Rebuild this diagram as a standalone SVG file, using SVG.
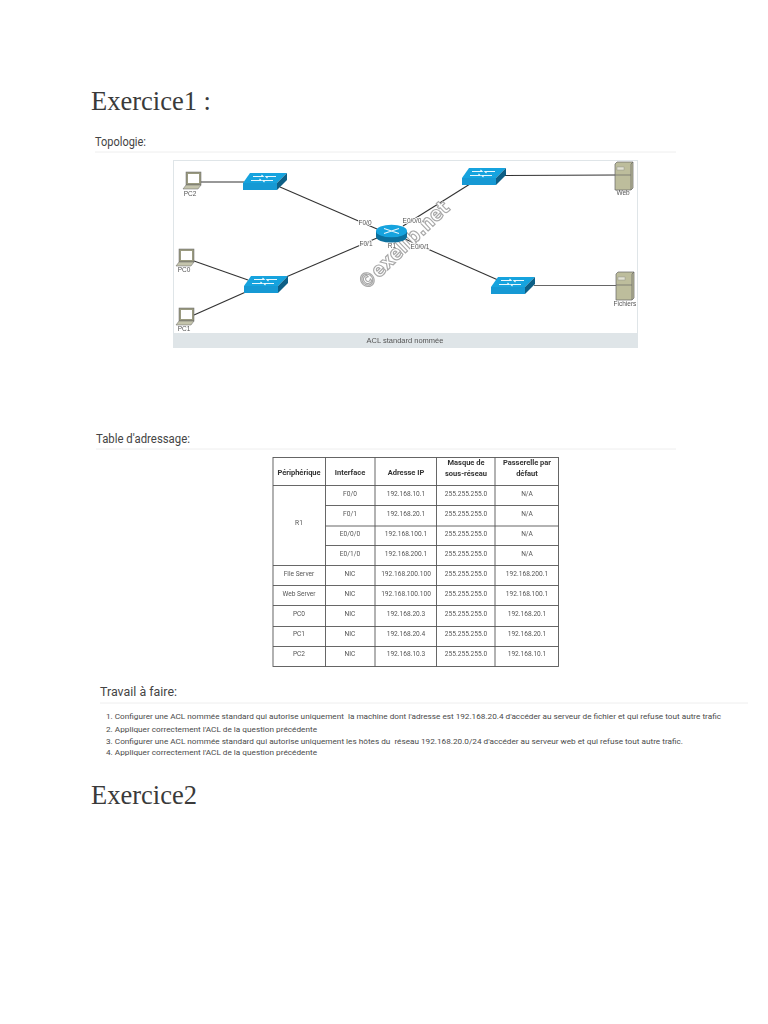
<svg xmlns="http://www.w3.org/2000/svg" width="768" height="1024" viewBox="0 0 768 1024">
<style>
.title{font-family:"Liberation Serif",serif;font-size:26.5px;fill:#3a3a3a}
.head{font-family:Roboto,"Liberation Sans",sans-serif;fill:#444}
.li{font-family:Roboto,"Liberation Sans",sans-serif;font-size:8px;fill:#4a4a4a}
.lab{font-family:"Liberation Sans",sans-serif;font-size:6.5px;fill:#555;text-anchor:middle}
.port{paint-order:stroke;stroke:#fff;stroke-width:1.6px}
.td{font-family:Roboto,"Liberation Sans",sans-serif;font-size:6.6px;fill:#555;text-anchor:middle}
.th{font-family:Roboto,"Liberation Sans",sans-serif;font-size:7.5px;font-weight:700;fill:#333;text-anchor:middle}
.link{stroke:#333;stroke-width:1.1;fill:none}
.hair{stroke:#eeeeee;stroke-width:1}
.grid{stroke:#555;stroke-width:.9;fill:none}
</style>
<defs>
<filter id="soft" x="-5%" y="-5%" width="110%" height="110%"><feGaussianBlur stdDeviation="0.4"/></filter>
<g id="sw">
<polygon points="0,10 34,10 44,0 7,0" fill="#16a3de"/>
<rect x="0" y="10" width="34" height="7" fill="#1299d4"/>
<polygon points="34,10 44,0 44,7 34,17" fill="#0b5f86"/>
<path d="M10 3.500h10l-1.500-1.500M33 3.500h-10l1.500 1.500M8 7.500h10l-1.500-1.500M30 7.500h-10l1.500 1.500" stroke="#eaf7fd" stroke-width="1.100" fill="none"/>
</g>
<g id="pc">
<rect x="3" y="0" width="15" height="13" fill="#9a9a80" stroke="#666" stroke-width=".5"/>
<rect x="5" y="2" width="11" height="9" fill="#fff"/>
<polygon points="3,13 18,13 15,17 0,17" fill="#c4c4ac" stroke="#666" stroke-width=".5"/>
</g>
<g id="srv">
<polygon points="0,2 2,0 18,0 18,26 16,28 0,28" fill="#bdbd9c" stroke="#666" stroke-width=".7"/>
<path d="M0 13h16M16 2v26M16 2l2-2" stroke="#666" stroke-width=".7" fill="none"/>
<rect x="2" y="5" width="7" height="3" fill="#e3e3d3" stroke="#888" stroke-width=".4"/>
</g>
</defs>
<rect width="768" height="1024" fill="#fff"/>
<text class="title" x="91" y="110">Exercice1 :</text>
<text class="head" x="95" y="146" font-size="12.300" textLength="51" lengthAdjust="spacingAndGlyphs">Topologie:</text>
<line class="hair" x1="95" y1="152" x2="676" y2="152"/>

<g id="topology" filter="url(#soft)">
<rect x="173.500" y="160.500" width="464" height="187" fill="#fff" stroke="#dfe5e8"/>
<rect id="caption" x="174" y="333" width="463" height="14" fill="#dfe5e8"/>
<text x="405" y="343" class="lab" style="font-size:7.500px">ACL standard nommée</text>
<g id="connectors">
<line class="link" x1="200" y1="182" x2="244" y2="182"/>
<line class="link" x1="280" y1="187" x2="377" y2="229"/>
<line class="link" x1="194" y1="261" x2="248" y2="280"/>
<line class="link" x1="194" y1="315" x2="248" y2="291"/>
<line class="link" x1="286" y1="277" x2="377" y2="238"/>
<line class="link" x1="403" y1="226" x2="470" y2="184"/>
<line class="link" x1="405" y1="239" x2="498" y2="280"/>
<line class="link" x1="505" y1="175.500" x2="616" y2="175"/>
<line class="link" x1="534" y1="285.500" x2="617" y2="285.500" style="stroke:#666"/>
</g>
<g id="sw-a"><use href="#sw" x="243" y="173"/></g>
<g id="sw-b"><use href="#sw" x="244" y="276"/></g>
<g id="sw-c"><use href="#sw" x="462" y="168"/></g>
<g id="sw-d"><use href="#sw" x="491" y="277"/></g>
<text id="watermark" transform="translate(366 291) rotate(-44)" font-family="'DejaVu Sans',sans-serif" font-weight="700" font-size="20" fill="#fff" stroke="#a8a8a8" stroke-width="1.200" textLength="118" lengthAdjust="spacingAndGlyphs">©exelib.net</text>
<g id="r1">
<path d="M376 231v6a15.500 5.500 0 0 0 31 0v-6z" fill="#0b6f9e"/>
<ellipse cx="391.500" cy="231" rx="15.500" ry="6.300" fill="#16a3de"/>
<path d="M384 228.500l15 5M399 228.500l-15 5" stroke="#eaf7fd" stroke-width="1.100"/>
<text class="lab" x="392" y="247.500">R1</text>
</g>
<g id="pc2"><use href="#pc" x="183" y="172"/><text class="lab" x="190" y="196">PC2</text></g>
<g id="pc0"><use href="#pc" x="176" y="249"/><text class="lab" x="184" y="272">PC0</text></g>
<g id="pc1"><use href="#pc" x="176" y="308"/><text class="lab" x="184" y="331">PC1</text></g>
<g id="web"><use href="#srv" x="615" y="162"/><text class="lab" x="623" y="195">Web</text></g>
<g id="fichiers"><use href="#srv" x="616" y="272"/><text class="lab" x="625" y="306">Fichiers</text></g>
<text class="lab port" x="365" y="225">F0/0</text>
<text class="lab port" x="366" y="246">F0/1</text>
<text class="lab port" x="412" y="223">E0/0/0</text>
<text class="lab port" x="420" y="248.500">E0/0/1</text>
</g>

<text class="head" x="96" y="443" font-size="12.300" textLength="94" lengthAdjust="spacingAndGlyphs">Table d'adressage:</text>
<line class="hair" x1="96" y1="449" x2="676" y2="449"/>

<g id="table" filter="url(#soft)">
<rect class="grid" x="273" y="457.500" width="285.500" height="209"/>
<path class="grid" d="M325.500 457.500V666.500M375 457.500V666.500M436.500 457.500V666.500M495 457.500V666.500M273 485.500H558.500M325.500 505.500H558.500M325.500 526H558.500M325.500 545.500H558.500M273 565.500H558.500M273 585.500H558.500M273 605.500H558.500M273 626.500H558.500M273 646.500H558.500"/>
<text class="th" x="299" y="475">Périphérique</text>
<text class="th" x="350" y="475">Interface</text>
<text class="th" x="406" y="475">Adresse IP</text>
<text class="th" x="466" y="465">Masque de</text>
<text class="th" x="466" y="476">sous-réseau</text>
<text class="th" x="527" y="465">Passerelle par</text>
<text class="th" x="527" y="476">défaut</text>
<text class="td" x="299" y="525">R1</text>
<text class="td" x="350" y="495.500">F0/0</text><text class="td" x="406" y="495.500">192.168.10.1</text><text class="td" x="466" y="495.500">255.255.255.0</text><text class="td" x="527" y="495.500">N/A</text>
<text class="td" x="350" y="515.500">F0/1</text><text class="td" x="406" y="515.500">192.168.20.1</text><text class="td" x="466" y="515.500">255.255.255.0</text><text class="td" x="527" y="515.500">N/A</text>
<text class="td" x="350" y="536">E0/0/0</text><text class="td" x="406" y="536">192.168.100.1</text><text class="td" x="466" y="536">255.255.255.0</text><text class="td" x="527" y="536">N/A</text>
<text class="td" x="350" y="555.500">E0/1/0</text><text class="td" x="406" y="555.500">192.168.200.1</text><text class="td" x="466" y="555.500">255.255.255.0</text><text class="td" x="527" y="555.500">N/A</text>
<text class="td" x="299" y="575.500">File Server</text><text class="td" x="350" y="575.500">NIC</text><text class="td" x="406" y="575.500">192.168.200.100</text><text class="td" x="466" y="575.500">255.255.255.0</text><text class="td" x="527" y="575.500">192.168.200.1</text>
<text class="td" x="299" y="595.500">Web Server</text><text class="td" x="350" y="595.500">NIC</text><text class="td" x="406" y="595.500">192.168.100.100</text><text class="td" x="466" y="595.500">255.255.255.0</text><text class="td" x="527" y="595.500">192.168.100.1</text>
<text class="td" x="299" y="616">PC0</text><text class="td" x="350" y="616">NIC</text><text class="td" x="406" y="616">192.168.20.3</text><text class="td" x="466" y="616">255.255.255.0</text><text class="td" x="527" y="616">192.168.20.1</text>
<text class="td" x="299" y="636">PC1</text><text class="td" x="350" y="636">NIC</text><text class="td" x="406" y="636">192.168.20.4</text><text class="td" x="466" y="636">255.255.255.0</text><text class="td" x="527" y="636">192.168.20.1</text>
<text class="td" x="299" y="656">PC2</text><text class="td" x="350" y="656">NIC</text><text class="td" x="406" y="656">192.168.10.3</text><text class="td" x="466" y="656">255.255.255.0</text><text class="td" x="527" y="656">192.168.10.1</text>
</g>

<text class="head" x="100" y="696" font-size="13.700" textLength="77" lengthAdjust="spacingAndGlyphs">Travail à faire:</text>
<line class="hair" x1="100" y1="703" x2="748" y2="703"/>
<g id="tasks">
<text class="li" x="106" y="719" textLength="615" lengthAdjust="spacingAndGlyphs" xml:space="preserve">1. Configurer une ACL nommée standard qui autorise uniquement  la machine dont l'adresse est 192.168.20.4 d'accéder au serveur de fichier et qui refuse tout autre trafic</text>
<text class="li" x="106" y="732" textLength="211" lengthAdjust="spacingAndGlyphs">2. Appliquer correctement l'ACL de la question précédente</text>
<text class="li" x="106" y="744" textLength="577" lengthAdjust="spacingAndGlyphs" xml:space="preserve">3. Configurer une ACL nommée standard qui autorise uniquement les hôtes du  réseau 192.168.20.0/24 d'accéder au serveur web et qui refuse tout autre trafic.</text>
<text class="li" x="106" y="755" textLength="211" lengthAdjust="spacingAndGlyphs">4. Appliquer correctement l'ACL de la question précédente</text>
</g>
<text class="title" x="91" y="804">Exercice2</text>
</svg>
